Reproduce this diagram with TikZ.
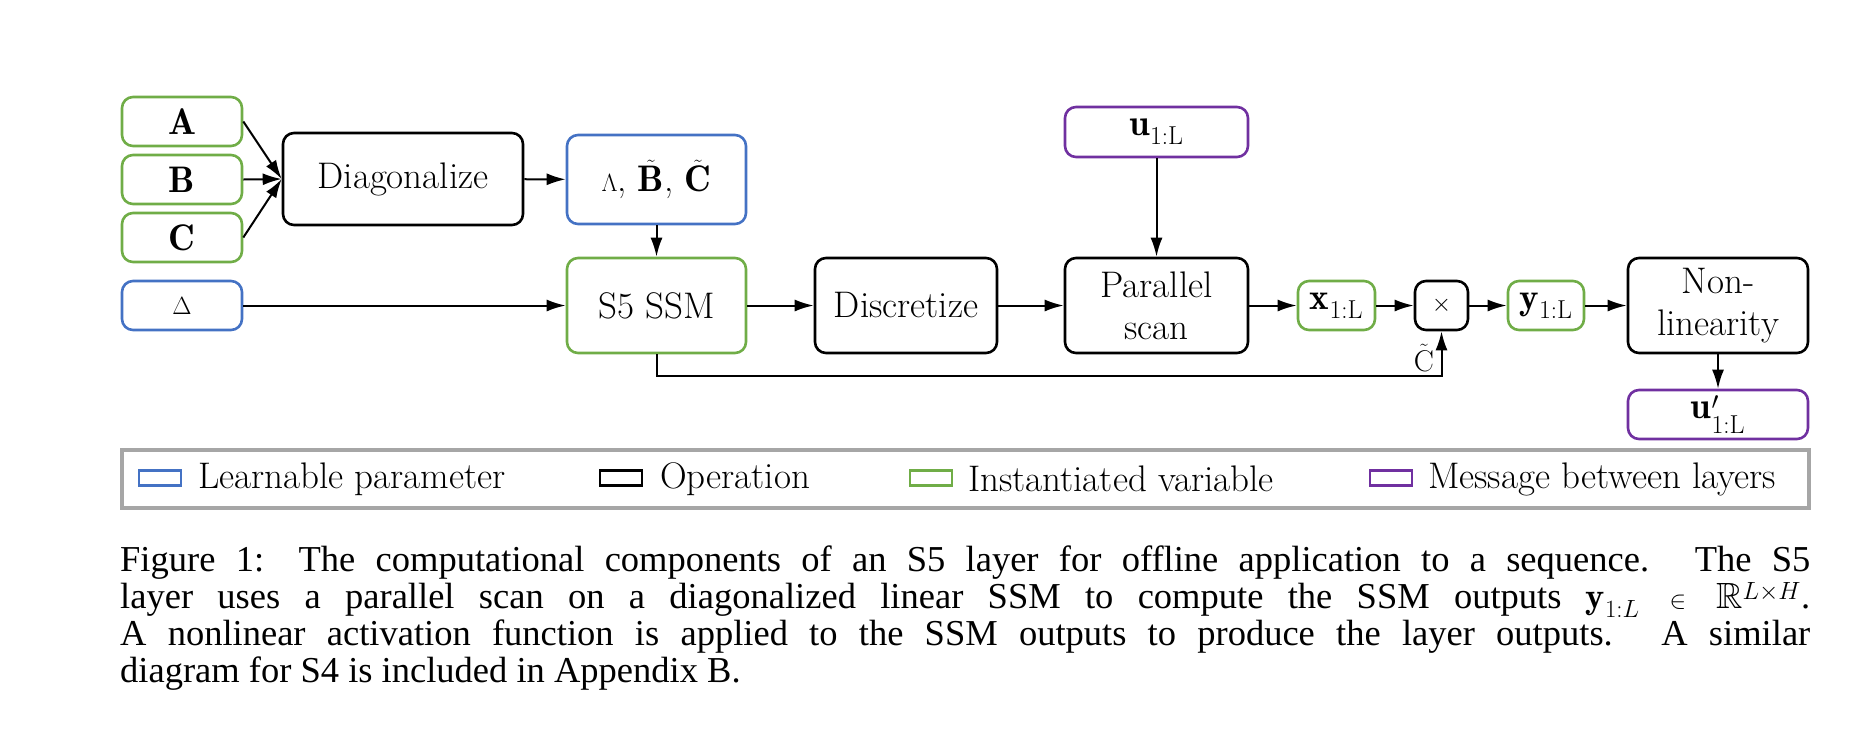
\documentclass[tikz,border=0pt]{standalone}
\usepackage{amsmath,amssymb}
\usepackage{fontspec}
\newfontfamily\capfont{Liberation Serif}
\usetikzlibrary{arrows.meta}
\definecolor{cblue}{HTML}{4472C4}
\definecolor{cgreen}{HTML}{70AD47}
\definecolor{cpurp}{HTML}{7030A0}
\definecolor{cgray}{HTML}{A6A6A6}
\begin{document}
\begin{tikzpicture}[x=1pt,y=-1pt,
  box/.style={draw,line width=2.6pt,rounded corners=11pt,inner sep=0pt,font=\fontsize{37}{42}\selectfont,align=center},
  lp/.style={box,draw=cblue},
  op/.style={box,draw=black},
  iv/.style={box,draw=cgreen},
  ms/.style={box,draw=cpurp},
  arr/.style={-{Latex[length=19pt,width=12pt]},line width=2pt},
  leg/.style={draw,line width=2.6pt,minimum width=42pt,minimum height=15pt,inner sep=0pt},
  legt/.style={anchor=west,font=\fontsize{37}{42}\selectfont,inner sep=0pt}]
\useasboundingbox (0,0) rectangle (1874,748);
\newcommand{\bx}[6]{\node[#1,minimum width={#4-#2},minimum height={#5-#3}] (#6) at ({(#2+#4)/2},{(#3+#5)/2})}
\bx{iv}{122}{97}{242}{146}{A} {$\mathbf{A}$};
\bx{iv}{122}{155}{242}{204}{B} {$\mathbf{B}$};
\bx{iv}{122}{213}{242}{262}{C} {$\mathbf{C}$};
\bx{lp}{122}{281}{242}{330}{D} {$\Delta$};
\bx{op}{283}{133}{523}{225}{diag} {Diagonalize};
\bx{lp}{567}{135}{746}{224}{lam} {$\Lambda$, $\tilde{\mathbf{B}}$, $\tilde{\mathbf{C}}$};
\bx{iv}{567}{258}{746}{353}{ssm} {S5 SSM};
\bx{op}{815}{258}{997}{353}{disc} {Discretize};
\bx{op}{1065}{258}{1248}{353}{scan} {Parallel\\scan};
\bx{ms}{1065}{107}{1248}{157}{u} {$\mathbf{u}_{\mathrm{1:L}}$};
\bx{iv}{1298}{281}{1375}{330}{x} {$\mathbf{x}_{\mathrm{1:L}}$};
\bx{op}{1415}{281}{1468}{330}{mul} {$\times$};
\bx{iv}{1508}{281}{1584}{330}{y} {$\mathbf{y}_{\mathrm{1:L}}$};
\bx{op}{1628}{258}{1808}{353}{nl} {Non-\\linearity};
\bx{ms}{1628}{390}{1808}{439}{up} {$\mathbf{u}'_{\mathrm{1:L}}$};
\draw[arr] (A.east) -- (diag.west);
\draw[arr] (B.east) -- (diag.west);
\draw[arr] (C.east) -- (diag.west);
\draw[arr] (diag) -- (lam);
\draw[arr] (lam) -- (ssm);
\draw[arr] (D) -- (ssm);
\draw[arr] (ssm) -- (disc);
\draw[arr] (disc) -- (scan);
\draw[arr] (u) -- (scan);
\draw[arr] (scan) -- (x);
\draw[arr] (x) -- (mul);
\draw[arr] (mul) -- (y);
\draw[arr] (y) -- (nl);
\draw[arr] (nl) -- (up);
\coordinate (k) at (656,376);
\draw[arr] (ssm.south) |- (k) -| (mul.south);
\node[font=\fontsize{30}{34}\selectfont,inner sep=0pt] (ct) at (1424,358) {$\tilde{\mathrm{C}}$};
\node[draw=cgray,line width=3.5pt,minimum width=1687pt,minimum height=58pt,inner sep=0pt] (lg) at (965.5,479) {};
\node[leg,draw=cblue] (l1) at (160,478) {};
\node[legt] (t1) at (198,479) {Learnable parameter};
\node[leg,draw=black] (l2) at (621,478) {};
\node[legt] (t2) at (660,479) {Operation};
\node[leg,draw=cgreen] (l3) at (931,478) {};
\node[legt] (t3) at (968,479) {Instantiated variable};
\node[leg,draw=cpurp] (l4) at (1391,478) {};
\node[legt] (t4) at (1428,479) {Message between layers};
\node[anchor=north west,inner sep=0pt,font=\capfont\fontsize{36.5}{37}\selectfont] (cap) at (120,546) {\parbox{1690pt}{\capfont Figure 1: The computational components of an S5 layer for offline application to a sequence. The S5\linebreak
layer uses a parallel scan on a diagonalized linear SSM to compute the SSM outputs $\mathbf{y}_{1:L}\in\mathbb{R}^{L\times H}$.\linebreak
A nonlinear activation function is applied to the SSM outputs to produce the layer outputs. A similar\linebreak
diagram for S4 is included in Appendix B.}};
\end{tikzpicture}
\end{document}
